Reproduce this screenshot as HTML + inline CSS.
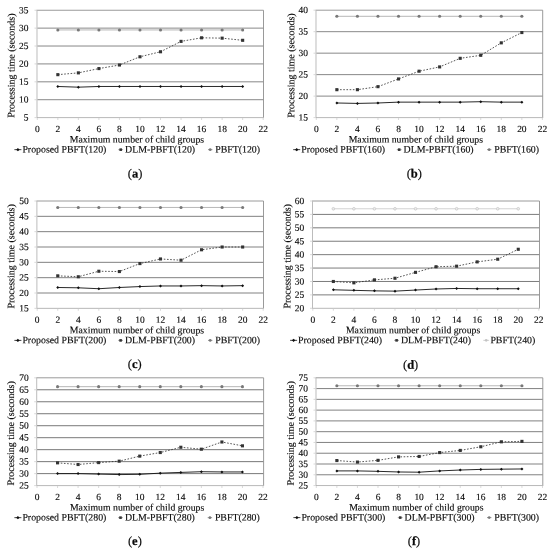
<!DOCTYPE html>
<html><head><meta charset="utf-8"><title>Figure</title>
<style>html,body{margin:0;padding:0;background:#fff}svg{display:block}text{stroke:#0a0a0a;stroke-width:.14px;text-rendering:geometricPrecision}</style>
</head><body>
<svg width="550" height="549" viewBox="0 0 550 549" font-family="'Liberation Serif', serif" font-size="9.45" fill="#0a0a0a">
<rect width="550" height="549" fill="#fff"/>
<g><line x1="37.3" x2="263.5" y1="99.71" y2="99.71" stroke="#727272" stroke-width="0.85"/><line x1="37.3" x2="263.5" y1="81.82" y2="81.82" stroke="#727272" stroke-width="0.85"/><line x1="37.3" x2="263.5" y1="63.92" y2="63.92" stroke="#727272" stroke-width="0.85"/><line x1="37.3" x2="263.5" y1="46.03" y2="46.03" stroke="#727272" stroke-width="0.85"/><line x1="37.3" x2="263.5" y1="28.14" y2="28.14" stroke="#727272" stroke-width="0.85"/><path d="M36.55 10.25H263.5V117.6" fill="none" stroke="#8e8e8e" stroke-width="0.9"/><line x1="37" x2="37" y1="10.25" y2="118.05" stroke="#b8b8b8" stroke-width="0.95"/><line x1="37" x2="263.95" y1="117.6" y2="117.6" stroke="#b0b0b0" stroke-width="0.9"/><text transform="translate(28.5 120.5) matrix(1 .0005 0 1 0 0)" text-anchor="end">5</text><line x1="34.5" x2="36.8" y1="117.6" y2="117.6" stroke="#cfcfcf" stroke-width="0.8"/><text transform="translate(28.5 102.61) matrix(1 .0005 0 1 0 0)" text-anchor="end">10</text><line x1="34.5" x2="36.8" y1="99.71" y2="99.71" stroke="#cfcfcf" stroke-width="0.8"/><text transform="translate(28.5 84.72) matrix(1 .0005 0 1 0 0)" text-anchor="end">15</text><line x1="34.5" x2="36.8" y1="81.82" y2="81.82" stroke="#cfcfcf" stroke-width="0.8"/><text transform="translate(28.5 66.83) matrix(1 .0005 0 1 0 0)" text-anchor="end">20</text><line x1="34.5" x2="36.8" y1="63.92" y2="63.92" stroke="#cfcfcf" stroke-width="0.8"/><text transform="translate(28.5 48.93) matrix(1 .0005 0 1 0 0)" text-anchor="end">25</text><line x1="34.5" x2="36.8" y1="46.03" y2="46.03" stroke="#cfcfcf" stroke-width="0.8"/><text transform="translate(28.5 31.04) matrix(1 .0005 0 1 0 0)" text-anchor="end">30</text><line x1="34.5" x2="36.8" y1="28.14" y2="28.14" stroke="#cfcfcf" stroke-width="0.8"/><text transform="translate(28.5 13.15) matrix(1 .0005 0 1 0 0)" text-anchor="end">35</text><line x1="34.5" x2="36.8" y1="10.25" y2="10.25" stroke="#cfcfcf" stroke-width="0.8"/><text transform="translate(37.3 131.95) matrix(1 .0005 0 1 0 0)" text-anchor="middle">0</text><line x1="37.3" x2="37.3" y1="118" y2="120" stroke="#cfcfcf" stroke-width="0.8"/><text transform="translate(57.84 131.95) matrix(1 .0005 0 1 0 0)" text-anchor="middle">2</text><line x1="57.84" x2="57.84" y1="118" y2="120" stroke="#cfcfcf" stroke-width="0.8"/><text transform="translate(78.37 131.95) matrix(1 .0005 0 1 0 0)" text-anchor="middle">4</text><line x1="78.37" x2="78.37" y1="118" y2="120" stroke="#cfcfcf" stroke-width="0.8"/><text transform="translate(98.91 131.95) matrix(1 .0005 0 1 0 0)" text-anchor="middle">6</text><line x1="98.91" x2="98.91" y1="118" y2="120" stroke="#cfcfcf" stroke-width="0.8"/><text transform="translate(119.45 131.95) matrix(1 .0005 0 1 0 0)" text-anchor="middle">8</text><line x1="119.45" x2="119.45" y1="118" y2="120" stroke="#cfcfcf" stroke-width="0.8"/><text transform="translate(139.98 131.95) matrix(1 .0005 0 1 0 0)" text-anchor="middle">10</text><line x1="139.98" x2="139.98" y1="118" y2="120" stroke="#cfcfcf" stroke-width="0.8"/><text transform="translate(160.52 131.95) matrix(1 .0005 0 1 0 0)" text-anchor="middle">12</text><line x1="160.52" x2="160.52" y1="118" y2="120" stroke="#cfcfcf" stroke-width="0.8"/><text transform="translate(181.05 131.95) matrix(1 .0005 0 1 0 0)" text-anchor="middle">14</text><line x1="181.05" x2="181.05" y1="118" y2="120" stroke="#cfcfcf" stroke-width="0.8"/><text transform="translate(201.59 131.95) matrix(1 .0005 0 1 0 0)" text-anchor="middle">16</text><line x1="201.59" x2="201.59" y1="118" y2="120" stroke="#cfcfcf" stroke-width="0.8"/><text transform="translate(222.13 131.95) matrix(1 .0005 0 1 0 0)" text-anchor="middle">18</text><line x1="222.13" x2="222.13" y1="118" y2="120" stroke="#cfcfcf" stroke-width="0.8"/><text transform="translate(242.66 131.95) matrix(1 .0005 0 1 0 0)" text-anchor="middle">20</text><line x1="242.66" x2="242.66" y1="118" y2="120" stroke="#cfcfcf" stroke-width="0.8"/><text transform="translate(263.2 131.95) matrix(1 .0005 0 1 0 0)" text-anchor="middle">22</text><line x1="263.2" x2="263.2" y1="118" y2="120" stroke="#cfcfcf" stroke-width="0.8"/><text transform="translate(136.9 142.6) matrix(1 .0005 0 1 0 0)" text-anchor="middle" font-size="9.76">Maximum number of child groups</text><text transform="translate(14.4 65.62) rotate(-90) matrix(1 .0005 0 1 0 0)" text-anchor="middle" font-size="10">Processing time (seconds)</text><line x1="57.84" x2="242.66" y1="29.93" y2="29.93" stroke="#a4a4a4" stroke-width="0.8"/><circle cx="57.84" cy="29.93" r="1.55" fill="#787878"/><circle cx="78.37" cy="29.93" r="1.55" fill="#787878"/><circle cx="98.91" cy="29.93" r="1.55" fill="#787878"/><circle cx="119.45" cy="29.93" r="1.55" fill="#787878"/><circle cx="139.98" cy="29.93" r="1.55" fill="#787878"/><circle cx="160.52" cy="29.93" r="1.55" fill="#787878"/><circle cx="181.05" cy="29.93" r="1.55" fill="#787878"/><circle cx="201.59" cy="29.93" r="1.55" fill="#787878"/><circle cx="222.13" cy="29.93" r="1.55" fill="#787878"/><circle cx="242.66" cy="29.93" r="1.55" fill="#787878"/><polyline points="57.84,74.66 78.37,72.87 98.91,68.58 119.45,65 139.98,56.77 160.52,51.76 181.05,41.38 201.59,37.8 222.13,38.16 242.66,40.31" fill="none" stroke="#2a2a2a" stroke-width="0.8" stroke-dasharray="1.6 1.6"/><rect x="56.29" y="73.11" width="3.1" height="3.1" fill="#333"/><rect x="76.82" y="71.32" width="3.1" height="3.1" fill="#333"/><rect x="97.36" y="67.03" width="3.1" height="3.1" fill="#333"/><rect x="117.9" y="63.45" width="3.1" height="3.1" fill="#333"/><rect x="138.43" y="55.22" width="3.1" height="3.1" fill="#333"/><rect x="158.97" y="50.21" width="3.1" height="3.1" fill="#333"/><rect x="179.5" y="39.83" width="3.1" height="3.1" fill="#333"/><rect x="200.04" y="36.25" width="3.1" height="3.1" fill="#333"/><rect x="220.58" y="36.61" width="3.1" height="3.1" fill="#333"/><rect x="241.11" y="38.76" width="3.1" height="3.1" fill="#333"/><polyline points="57.84,86.47 78.37,87.18 98.91,86.47 119.45,86.47 139.98,86.47 160.52,86.47 181.05,86.47 201.59,86.47 222.13,86.47 242.66,86.47" fill="none" stroke="#111" stroke-width="0.9"/><path d="M56.34 86.47L57.84 84.97L59.34 86.47L57.84 87.97Z" fill="#111"/><path d="M76.87 87.18L78.37 85.68L79.87 87.18L78.37 88.68Z" fill="#111"/><path d="M97.41 86.47L98.91 84.97L100.41 86.47L98.91 87.97Z" fill="#111"/><path d="M117.95 86.47L119.45 84.97L120.95 86.47L119.45 87.97Z" fill="#111"/><path d="M138.48 86.47L139.98 84.97L141.48 86.47L139.98 87.97Z" fill="#111"/><path d="M159.02 86.47L160.52 84.97L162.02 86.47L160.52 87.97Z" fill="#111"/><path d="M179.55 86.47L181.05 84.97L182.55 86.47L181.05 87.97Z" fill="#111"/><path d="M200.09 86.47L201.59 84.97L203.09 86.47L201.59 87.97Z" fill="#111"/><path d="M220.63 86.47L222.13 84.97L223.63 86.47L222.13 87.97Z" fill="#111"/><path d="M241.16 86.47L242.66 84.97L244.16 86.47L242.66 87.97Z" fill="#111"/><line x1="14.4" x2="21.4" y1="149.65" y2="149.65" stroke="#111" stroke-width="0.8"/><path d="M16.2 149.65L17.9 147.95L19.6 149.65L17.9 151.35Z" fill="#111"/><text transform="translate(22.4 152.45) matrix(1 .0005 0 1 0 0)" font-size="9.85">Proposed PBFT(120)</text><line x1="118.3" x2="123.1" y1="149.65" y2="149.65" stroke="#333" stroke-width="0.8" stroke-opacity="0.6"/><rect x="119.4" y="148.35" width="2.6" height="2.6" fill="#333"/><text transform="translate(125.1 152.45) matrix(1 .0005 0 1 0 0)" font-size="9.85">DLM-PBFT(120)</text><line x1="208" x2="212.4" y1="149.65" y2="149.65" stroke="#787878" stroke-width="0.8"/><circle cx="210.2" cy="149.65" r="1.3" fill="#787878"/><text transform="translate(215.2 152.45) matrix(1 .0005 0 1 0 0)" font-size="9.85">PBFT(120)</text><text transform="translate(135.1 177.6) matrix(1 .0005 0 1 0 0)" text-anchor="middle" font-size="12.5">(<tspan font-weight="bold" stroke="#111" stroke-width="0.25">a</tspan>)</text></g>
<g><line x1="316.3" x2="542.7" y1="96.12" y2="96.12" stroke="#727272" stroke-width="0.85"/><line x1="316.3" x2="542.7" y1="74.64" y2="74.64" stroke="#727272" stroke-width="0.85"/><line x1="316.3" x2="542.7" y1="53.16" y2="53.16" stroke="#727272" stroke-width="0.85"/><line x1="316.3" x2="542.7" y1="31.68" y2="31.68" stroke="#727272" stroke-width="0.85"/><path d="M315.55 10.2H542.7V117.6" fill="none" stroke="#8e8e8e" stroke-width="0.9"/><line x1="316" x2="316" y1="10.2" y2="118.05" stroke="#b8b8b8" stroke-width="0.95"/><line x1="316" x2="543.15" y1="117.6" y2="117.6" stroke="#b0b0b0" stroke-width="0.9"/><text transform="translate(307.9 120.5) matrix(1 .0005 0 1 0 0)" text-anchor="end">15</text><line x1="313.5" x2="315.8" y1="117.6" y2="117.6" stroke="#cfcfcf" stroke-width="0.8"/><text transform="translate(307.9 99.02) matrix(1 .0005 0 1 0 0)" text-anchor="end">20</text><line x1="313.5" x2="315.8" y1="96.12" y2="96.12" stroke="#cfcfcf" stroke-width="0.8"/><text transform="translate(307.9 77.54) matrix(1 .0005 0 1 0 0)" text-anchor="end">25</text><line x1="313.5" x2="315.8" y1="74.64" y2="74.64" stroke="#cfcfcf" stroke-width="0.8"/><text transform="translate(307.9 56.06) matrix(1 .0005 0 1 0 0)" text-anchor="end">30</text><line x1="313.5" x2="315.8" y1="53.16" y2="53.16" stroke="#cfcfcf" stroke-width="0.8"/><text transform="translate(307.9 34.58) matrix(1 .0005 0 1 0 0)" text-anchor="end">35</text><line x1="313.5" x2="315.8" y1="31.68" y2="31.68" stroke="#cfcfcf" stroke-width="0.8"/><text transform="translate(307.9 13.1) matrix(1 .0005 0 1 0 0)" text-anchor="end">40</text><line x1="313.5" x2="315.8" y1="10.2" y2="10.2" stroke="#cfcfcf" stroke-width="0.8"/><text transform="translate(316.3 131.95) matrix(1 .0005 0 1 0 0)" text-anchor="middle">0</text><line x1="316.3" x2="316.3" y1="118" y2="120" stroke="#cfcfcf" stroke-width="0.8"/><text transform="translate(336.85 131.95) matrix(1 .0005 0 1 0 0)" text-anchor="middle">2</text><line x1="336.85" x2="336.85" y1="118" y2="120" stroke="#cfcfcf" stroke-width="0.8"/><text transform="translate(357.41 131.95) matrix(1 .0005 0 1 0 0)" text-anchor="middle">4</text><line x1="357.41" x2="357.41" y1="118" y2="120" stroke="#cfcfcf" stroke-width="0.8"/><text transform="translate(377.96 131.95) matrix(1 .0005 0 1 0 0)" text-anchor="middle">6</text><line x1="377.96" x2="377.96" y1="118" y2="120" stroke="#cfcfcf" stroke-width="0.8"/><text transform="translate(398.52 131.95) matrix(1 .0005 0 1 0 0)" text-anchor="middle">8</text><line x1="398.52" x2="398.52" y1="118" y2="120" stroke="#cfcfcf" stroke-width="0.8"/><text transform="translate(419.07 131.95) matrix(1 .0005 0 1 0 0)" text-anchor="middle">10</text><line x1="419.07" x2="419.07" y1="118" y2="120" stroke="#cfcfcf" stroke-width="0.8"/><text transform="translate(439.63 131.95) matrix(1 .0005 0 1 0 0)" text-anchor="middle">12</text><line x1="439.63" x2="439.63" y1="118" y2="120" stroke="#cfcfcf" stroke-width="0.8"/><text transform="translate(460.18 131.95) matrix(1 .0005 0 1 0 0)" text-anchor="middle">14</text><line x1="460.18" x2="460.18" y1="118" y2="120" stroke="#cfcfcf" stroke-width="0.8"/><text transform="translate(480.74 131.95) matrix(1 .0005 0 1 0 0)" text-anchor="middle">16</text><line x1="480.74" x2="480.74" y1="118" y2="120" stroke="#cfcfcf" stroke-width="0.8"/><text transform="translate(501.29 131.95) matrix(1 .0005 0 1 0 0)" text-anchor="middle">18</text><line x1="501.29" x2="501.29" y1="118" y2="120" stroke="#cfcfcf" stroke-width="0.8"/><text transform="translate(521.85 131.95) matrix(1 .0005 0 1 0 0)" text-anchor="middle">20</text><line x1="521.85" x2="521.85" y1="118" y2="120" stroke="#cfcfcf" stroke-width="0.8"/><text transform="translate(542.4 131.95) matrix(1 .0005 0 1 0 0)" text-anchor="middle">22</text><line x1="542.4" x2="542.4" y1="118" y2="120" stroke="#cfcfcf" stroke-width="0.8"/><text transform="translate(415.8 142.6) matrix(1 .0005 0 1 0 0)" text-anchor="middle" font-size="9.76">Maximum number of child groups</text><text transform="translate(294.3 65.6) rotate(-90) matrix(1 .0005 0 1 0 0)" text-anchor="middle" font-size="10">Processing time (seconds)</text><line x1="336.85" x2="521.85" y1="16.3" y2="16.3" stroke="#a4a4a4" stroke-width="0.8"/><circle cx="336.85" cy="16.3" r="1.55" fill="#787878"/><circle cx="357.41" cy="16.3" r="1.55" fill="#787878"/><circle cx="377.96" cy="16.3" r="1.55" fill="#787878"/><circle cx="398.52" cy="16.3" r="1.55" fill="#787878"/><circle cx="419.07" cy="16.3" r="1.55" fill="#787878"/><circle cx="439.63" cy="16.3" r="1.55" fill="#787878"/><circle cx="460.18" cy="16.3" r="1.55" fill="#787878"/><circle cx="480.74" cy="16.3" r="1.55" fill="#787878"/><circle cx="501.29" cy="16.3" r="1.55" fill="#787878"/><circle cx="521.85" cy="16.3" r="1.55" fill="#787878"/><polyline points="336.85,89.68 357.41,89.68 377.96,86.67 398.52,78.94 419.07,71.2 439.63,66.91 460.18,58.32 480.74,55.31 501.29,42.85 521.85,32.54" fill="none" stroke="#2a2a2a" stroke-width="0.8" stroke-dasharray="1.6 1.6"/><rect x="335.3" y="88.13" width="3.1" height="3.1" fill="#333"/><rect x="355.86" y="88.13" width="3.1" height="3.1" fill="#333"/><rect x="376.41" y="85.12" width="3.1" height="3.1" fill="#333"/><rect x="396.97" y="77.39" width="3.1" height="3.1" fill="#333"/><rect x="417.52" y="69.65" width="3.1" height="3.1" fill="#333"/><rect x="438.08" y="65.36" width="3.1" height="3.1" fill="#333"/><rect x="458.63" y="56.77" width="3.1" height="3.1" fill="#333"/><rect x="479.19" y="53.76" width="3.1" height="3.1" fill="#333"/><rect x="499.74" y="41.3" width="3.1" height="3.1" fill="#333"/><rect x="520.3" y="30.99" width="3.1" height="3.1" fill="#333"/><polyline points="336.85,102.99 357.41,103.42 377.96,102.99 398.52,102.13 419.07,102.13 439.63,102.13 460.18,102.13 480.74,101.7 501.29,102.13 521.85,102.13" fill="none" stroke="#111" stroke-width="0.9"/><path d="M335.35 102.99L336.85 101.49L338.35 102.99L336.85 104.49Z" fill="#111"/><path d="M355.91 103.42L357.41 101.92L358.91 103.42L357.41 104.92Z" fill="#111"/><path d="M376.46 102.99L377.96 101.49L379.46 102.99L377.96 104.49Z" fill="#111"/><path d="M397.02 102.13L398.52 100.63L400.02 102.13L398.52 103.63Z" fill="#111"/><path d="M417.57 102.13L419.07 100.63L420.57 102.13L419.07 103.63Z" fill="#111"/><path d="M438.13 102.13L439.63 100.63L441.13 102.13L439.63 103.63Z" fill="#111"/><path d="M458.68 102.13L460.18 100.63L461.68 102.13L460.18 103.63Z" fill="#111"/><path d="M479.24 101.7L480.74 100.2L482.24 101.7L480.74 103.2Z" fill="#111"/><path d="M499.79 102.13L501.29 100.63L502.79 102.13L501.29 103.63Z" fill="#111"/><path d="M520.35 102.13L521.85 100.63L523.35 102.13L521.85 103.63Z" fill="#111"/><line x1="293.2" x2="300.2" y1="149.65" y2="149.65" stroke="#111" stroke-width="0.8"/><path d="M295 149.65L296.7 147.95L298.4 149.65L296.7 151.35Z" fill="#111"/><text transform="translate(301.2 152.45) matrix(1 .0005 0 1 0 0)" font-size="9.85">Proposed PBFT(160)</text><line x1="396.8" x2="401.6" y1="149.65" y2="149.65" stroke="#333" stroke-width="0.8" stroke-opacity="0.6"/><rect x="397.9" y="148.35" width="2.6" height="2.6" fill="#333"/><text transform="translate(403.6 152.45) matrix(1 .0005 0 1 0 0)" font-size="9.85">DLM-PBFT(160)</text><line x1="487" x2="491.4" y1="149.65" y2="149.65" stroke="#787878" stroke-width="0.8"/><circle cx="489.2" cy="149.65" r="1.3" fill="#787878"/><text transform="translate(494.2 152.45) matrix(1 .0005 0 1 0 0)" font-size="9.85">PBFT(160)</text><text transform="translate(414.3 177.6) matrix(1 .0005 0 1 0 0)" text-anchor="middle" font-size="12.5">(<tspan font-weight="bold" stroke="#111" stroke-width="0.25">b</tspan>)</text></g>
<g><line x1="37.2" x2="263.5" y1="293.01" y2="293.01" stroke="#6a6a6a" stroke-width="0.85"/><line x1="37.2" x2="263.5" y1="277.68" y2="277.68" stroke="#6a6a6a" stroke-width="0.85"/><line x1="37.2" x2="263.5" y1="262.34" y2="262.34" stroke="#6a6a6a" stroke-width="0.85"/><line x1="37.2" x2="263.5" y1="247.01" y2="247.01" stroke="#6a6a6a" stroke-width="0.85"/><line x1="37.2" x2="263.5" y1="231.67" y2="231.67" stroke="#6a6a6a" stroke-width="0.85"/><line x1="37.2" x2="263.5" y1="216.34" y2="216.34" stroke="#6a6a6a" stroke-width="0.85"/><path d="M36.45 201H263.5V308.35" fill="none" stroke="#8e8e8e" stroke-width="0.9"/><line x1="36.9" x2="36.9" y1="201" y2="308.8" stroke="#b8b8b8" stroke-width="0.95"/><line x1="36.9" x2="263.95" y1="308.35" y2="308.35" stroke="#b0b0b0" stroke-width="0.9"/><text transform="translate(28.8 311.25) matrix(1 .0005 0 1 0 0)" text-anchor="end">15</text><line x1="34.4" x2="36.7" y1="308.35" y2="308.35" stroke="#cfcfcf" stroke-width="0.8"/><text transform="translate(28.8 295.91) matrix(1 .0005 0 1 0 0)" text-anchor="end">20</text><line x1="34.4" x2="36.7" y1="293.01" y2="293.01" stroke="#cfcfcf" stroke-width="0.8"/><text transform="translate(28.8 280.58) matrix(1 .0005 0 1 0 0)" text-anchor="end">25</text><line x1="34.4" x2="36.7" y1="277.68" y2="277.68" stroke="#cfcfcf" stroke-width="0.8"/><text transform="translate(28.8 265.24) matrix(1 .0005 0 1 0 0)" text-anchor="end">30</text><line x1="34.4" x2="36.7" y1="262.34" y2="262.34" stroke="#cfcfcf" stroke-width="0.8"/><text transform="translate(28.8 249.91) matrix(1 .0005 0 1 0 0)" text-anchor="end">35</text><line x1="34.4" x2="36.7" y1="247.01" y2="247.01" stroke="#cfcfcf" stroke-width="0.8"/><text transform="translate(28.8 234.57) matrix(1 .0005 0 1 0 0)" text-anchor="end">40</text><line x1="34.4" x2="36.7" y1="231.67" y2="231.67" stroke="#cfcfcf" stroke-width="0.8"/><text transform="translate(28.8 219.24) matrix(1 .0005 0 1 0 0)" text-anchor="end">45</text><line x1="34.4" x2="36.7" y1="216.34" y2="216.34" stroke="#cfcfcf" stroke-width="0.8"/><text transform="translate(28.8 203.9) matrix(1 .0005 0 1 0 0)" text-anchor="end">50</text><line x1="34.4" x2="36.7" y1="201" y2="201" stroke="#cfcfcf" stroke-width="0.8"/><text transform="translate(37.2 322.7) matrix(1 .0005 0 1 0 0)" text-anchor="middle">0</text><line x1="37.2" x2="37.2" y1="308.75" y2="310.75" stroke="#cfcfcf" stroke-width="0.8"/><text transform="translate(57.75 322.7) matrix(1 .0005 0 1 0 0)" text-anchor="middle">2</text><line x1="57.75" x2="57.75" y1="308.75" y2="310.75" stroke="#cfcfcf" stroke-width="0.8"/><text transform="translate(78.29 322.7) matrix(1 .0005 0 1 0 0)" text-anchor="middle">4</text><line x1="78.29" x2="78.29" y1="308.75" y2="310.75" stroke="#cfcfcf" stroke-width="0.8"/><text transform="translate(98.84 322.7) matrix(1 .0005 0 1 0 0)" text-anchor="middle">6</text><line x1="98.84" x2="98.84" y1="308.75" y2="310.75" stroke="#cfcfcf" stroke-width="0.8"/><text transform="translate(119.38 322.7) matrix(1 .0005 0 1 0 0)" text-anchor="middle">8</text><line x1="119.38" x2="119.38" y1="308.75" y2="310.75" stroke="#cfcfcf" stroke-width="0.8"/><text transform="translate(139.93 322.7) matrix(1 .0005 0 1 0 0)" text-anchor="middle">10</text><line x1="139.93" x2="139.93" y1="308.75" y2="310.75" stroke="#cfcfcf" stroke-width="0.8"/><text transform="translate(160.47 322.7) matrix(1 .0005 0 1 0 0)" text-anchor="middle">12</text><line x1="160.47" x2="160.47" y1="308.75" y2="310.75" stroke="#cfcfcf" stroke-width="0.8"/><text transform="translate(181.02 322.7) matrix(1 .0005 0 1 0 0)" text-anchor="middle">14</text><line x1="181.02" x2="181.02" y1="308.75" y2="310.75" stroke="#cfcfcf" stroke-width="0.8"/><text transform="translate(201.56 322.7) matrix(1 .0005 0 1 0 0)" text-anchor="middle">16</text><line x1="201.56" x2="201.56" y1="308.75" y2="310.75" stroke="#cfcfcf" stroke-width="0.8"/><text transform="translate(222.11 322.7) matrix(1 .0005 0 1 0 0)" text-anchor="middle">18</text><line x1="222.11" x2="222.11" y1="308.75" y2="310.75" stroke="#cfcfcf" stroke-width="0.8"/><text transform="translate(242.65 322.7) matrix(1 .0005 0 1 0 0)" text-anchor="middle">20</text><line x1="242.65" x2="242.65" y1="308.75" y2="310.75" stroke="#cfcfcf" stroke-width="0.8"/><text transform="translate(263.2 322.7) matrix(1 .0005 0 1 0 0)" text-anchor="middle">22</text><line x1="263.2" x2="263.2" y1="308.75" y2="310.75" stroke="#cfcfcf" stroke-width="0.8"/><text transform="translate(137 333.35) matrix(1 .0005 0 1 0 0)" text-anchor="middle" font-size="9.76">Maximum number of child groups</text><text transform="translate(14.2 256.38) rotate(-90) matrix(1 .0005 0 1 0 0)" text-anchor="middle" font-size="10">Processing time (seconds)</text><line x1="57.75" x2="242.65" y1="207.44" y2="207.44" stroke="#a4a4a4" stroke-width="0.8"/><circle cx="57.75" cy="207.44" r="1.55" fill="#787878"/><circle cx="78.29" cy="207.44" r="1.55" fill="#787878"/><circle cx="98.84" cy="207.44" r="1.55" fill="#787878"/><circle cx="119.38" cy="207.44" r="1.55" fill="#787878"/><circle cx="139.93" cy="207.44" r="1.55" fill="#787878"/><circle cx="160.47" cy="207.44" r="1.55" fill="#787878"/><circle cx="181.02" cy="207.44" r="1.55" fill="#787878"/><circle cx="201.56" cy="207.44" r="1.55" fill="#787878"/><circle cx="222.11" cy="207.44" r="1.55" fill="#787878"/><circle cx="242.65" cy="207.44" r="1.55" fill="#787878"/><polyline points="57.75,275.84 78.29,276.76 98.84,271.24 119.38,271.54 139.93,263.57 160.47,258.97 181.02,260.2 201.56,249.77 222.11,247.01 242.65,247.01" fill="none" stroke="#2a2a2a" stroke-width="0.8" stroke-dasharray="1.6 1.6"/><rect x="56.2" y="274.29" width="3.1" height="3.1" fill="#333"/><rect x="76.74" y="275.21" width="3.1" height="3.1" fill="#333"/><rect x="97.29" y="269.69" width="3.1" height="3.1" fill="#333"/><rect x="117.83" y="269.99" width="3.1" height="3.1" fill="#333"/><rect x="138.38" y="262.02" width="3.1" height="3.1" fill="#333"/><rect x="158.92" y="257.42" width="3.1" height="3.1" fill="#333"/><rect x="179.47" y="258.65" width="3.1" height="3.1" fill="#333"/><rect x="200.01" y="248.22" width="3.1" height="3.1" fill="#333"/><rect x="220.56" y="245.46" width="3.1" height="3.1" fill="#333"/><rect x="241.1" y="245.46" width="3.1" height="3.1" fill="#333"/><polyline points="57.75,287.49 78.29,287.8 98.84,288.72 119.38,287.49 139.93,286.57 160.47,285.96 181.02,285.96 201.56,285.65 222.11,285.96 242.65,285.65" fill="none" stroke="#111" stroke-width="0.9"/><path d="M56.25 287.49L57.75 285.99L59.25 287.49L57.75 288.99Z" fill="#111"/><path d="M76.79 287.8L78.29 286.3L79.79 287.8L78.29 289.3Z" fill="#111"/><path d="M97.34 288.72L98.84 287.22L100.34 288.72L98.84 290.22Z" fill="#111"/><path d="M117.88 287.49L119.38 285.99L120.88 287.49L119.38 288.99Z" fill="#111"/><path d="M138.43 286.57L139.93 285.07L141.43 286.57L139.93 288.07Z" fill="#111"/><path d="M158.97 285.96L160.47 284.46L161.97 285.96L160.47 287.46Z" fill="#111"/><path d="M179.52 285.96L181.02 284.46L182.52 285.96L181.02 287.46Z" fill="#111"/><path d="M200.06 285.65L201.56 284.15L203.06 285.65L201.56 287.15Z" fill="#111"/><path d="M220.61 285.96L222.11 284.46L223.61 285.96L222.11 287.46Z" fill="#111"/><path d="M241.15 285.65L242.65 284.15L244.15 285.65L242.65 287.15Z" fill="#111"/><line x1="14.4" x2="21.4" y1="340.4" y2="340.4" stroke="#111" stroke-width="0.8"/><path d="M16.2 340.4L17.9 338.7L19.6 340.4L17.9 342.1Z" fill="#111"/><text transform="translate(22.4 343.2) matrix(1 .0005 0 1 0 0)" font-size="9.85">Proposed PBFT(200)</text><line x1="118.2" x2="123" y1="340.4" y2="340.4" stroke="#333" stroke-width="0.8" stroke-opacity="0.6"/><rect x="119.3" y="339.1" width="2.6" height="2.6" fill="#333"/><text transform="translate(125 343.2) matrix(1 .0005 0 1 0 0)" font-size="9.85">DLM-PBFT(200)</text><line x1="208" x2="212.4" y1="340.4" y2="340.4" stroke="#787878" stroke-width="0.8"/><circle cx="210.2" cy="340.4" r="1.3" fill="#787878"/><text transform="translate(215.2 343.2) matrix(1 .0005 0 1 0 0)" font-size="9.85">PBFT(200)</text><text transform="translate(134.8 368.05) matrix(1 .0005 0 1 0 0)" text-anchor="middle" font-size="12.5">(<tspan font-weight="bold" stroke="#111" stroke-width="0.25">c</tspan>)</text></g>
<g><line x1="312.8" x2="539.5" y1="294.89" y2="294.89" stroke="#646464" stroke-width="0.85"/><line x1="312.8" x2="539.5" y1="281.48" y2="281.48" stroke="#646464" stroke-width="0.85"/><line x1="312.8" x2="539.5" y1="268.06" y2="268.06" stroke="#646464" stroke-width="0.85"/><line x1="312.8" x2="539.5" y1="254.65" y2="254.65" stroke="#646464" stroke-width="0.85"/><line x1="312.8" x2="539.5" y1="241.24" y2="241.24" stroke="#646464" stroke-width="0.85"/><line x1="312.8" x2="539.5" y1="227.82" y2="227.82" stroke="#646464" stroke-width="0.85"/><line x1="312.8" x2="539.5" y1="214.41" y2="214.41" stroke="#646464" stroke-width="0.85"/><path d="M312.05 201H539.5V308.3" fill="none" stroke="#8e8e8e" stroke-width="0.9"/><line x1="312.5" x2="312.5" y1="201" y2="308.75" stroke="#b8b8b8" stroke-width="0.95"/><line x1="312.5" x2="539.95" y1="308.3" y2="308.3" stroke="#b0b0b0" stroke-width="0.9"/><text transform="translate(304.3 311.2) matrix(1 .0005 0 1 0 0)" text-anchor="end">20</text><line x1="310" x2="312.3" y1="308.3" y2="308.3" stroke="#cfcfcf" stroke-width="0.8"/><text transform="translate(304.3 297.79) matrix(1 .0005 0 1 0 0)" text-anchor="end">25</text><line x1="310" x2="312.3" y1="294.89" y2="294.89" stroke="#cfcfcf" stroke-width="0.8"/><text transform="translate(304.3 284.38) matrix(1 .0005 0 1 0 0)" text-anchor="end">30</text><line x1="310" x2="312.3" y1="281.48" y2="281.48" stroke="#cfcfcf" stroke-width="0.8"/><text transform="translate(304.3 270.96) matrix(1 .0005 0 1 0 0)" text-anchor="end">35</text><line x1="310" x2="312.3" y1="268.06" y2="268.06" stroke="#cfcfcf" stroke-width="0.8"/><text transform="translate(304.3 257.55) matrix(1 .0005 0 1 0 0)" text-anchor="end">40</text><line x1="310" x2="312.3" y1="254.65" y2="254.65" stroke="#cfcfcf" stroke-width="0.8"/><text transform="translate(304.3 244.14) matrix(1 .0005 0 1 0 0)" text-anchor="end">45</text><line x1="310" x2="312.3" y1="241.24" y2="241.24" stroke="#cfcfcf" stroke-width="0.8"/><text transform="translate(304.3 230.72) matrix(1 .0005 0 1 0 0)" text-anchor="end">50</text><line x1="310" x2="312.3" y1="227.82" y2="227.82" stroke="#cfcfcf" stroke-width="0.8"/><text transform="translate(304.3 217.31) matrix(1 .0005 0 1 0 0)" text-anchor="end">55</text><line x1="310" x2="312.3" y1="214.41" y2="214.41" stroke="#cfcfcf" stroke-width="0.8"/><text transform="translate(304.3 203.9) matrix(1 .0005 0 1 0 0)" text-anchor="end">60</text><line x1="310" x2="312.3" y1="201" y2="201" stroke="#cfcfcf" stroke-width="0.8"/><text transform="translate(312.8 322.65) matrix(1 .0005 0 1 0 0)" text-anchor="middle">0</text><line x1="312.8" x2="312.8" y1="308.7" y2="310.7" stroke="#cfcfcf" stroke-width="0.8"/><text transform="translate(333.35 322.65) matrix(1 .0005 0 1 0 0)" text-anchor="middle">2</text><line x1="333.35" x2="333.35" y1="308.7" y2="310.7" stroke="#cfcfcf" stroke-width="0.8"/><text transform="translate(353.89 322.65) matrix(1 .0005 0 1 0 0)" text-anchor="middle">4</text><line x1="353.89" x2="353.89" y1="308.7" y2="310.7" stroke="#cfcfcf" stroke-width="0.8"/><text transform="translate(374.44 322.65) matrix(1 .0005 0 1 0 0)" text-anchor="middle">6</text><line x1="374.44" x2="374.44" y1="308.7" y2="310.7" stroke="#cfcfcf" stroke-width="0.8"/><text transform="translate(394.98 322.65) matrix(1 .0005 0 1 0 0)" text-anchor="middle">8</text><line x1="394.98" x2="394.98" y1="308.7" y2="310.7" stroke="#cfcfcf" stroke-width="0.8"/><text transform="translate(415.53 322.65) matrix(1 .0005 0 1 0 0)" text-anchor="middle">10</text><line x1="415.53" x2="415.53" y1="308.7" y2="310.7" stroke="#cfcfcf" stroke-width="0.8"/><text transform="translate(436.07 322.65) matrix(1 .0005 0 1 0 0)" text-anchor="middle">12</text><line x1="436.07" x2="436.07" y1="308.7" y2="310.7" stroke="#cfcfcf" stroke-width="0.8"/><text transform="translate(456.62 322.65) matrix(1 .0005 0 1 0 0)" text-anchor="middle">14</text><line x1="456.62" x2="456.62" y1="308.7" y2="310.7" stroke="#cfcfcf" stroke-width="0.8"/><text transform="translate(477.16 322.65) matrix(1 .0005 0 1 0 0)" text-anchor="middle">16</text><line x1="477.16" x2="477.16" y1="308.7" y2="310.7" stroke="#cfcfcf" stroke-width="0.8"/><text transform="translate(497.71 322.65) matrix(1 .0005 0 1 0 0)" text-anchor="middle">18</text><line x1="497.71" x2="497.71" y1="308.7" y2="310.7" stroke="#cfcfcf" stroke-width="0.8"/><text transform="translate(518.25 322.65) matrix(1 .0005 0 1 0 0)" text-anchor="middle">20</text><line x1="518.25" x2="518.25" y1="308.7" y2="310.7" stroke="#cfcfcf" stroke-width="0.8"/><text transform="translate(538.8 322.65) matrix(1 .0005 0 1 0 0)" text-anchor="middle">22</text><line x1="538.8" x2="538.8" y1="308.7" y2="310.7" stroke="#cfcfcf" stroke-width="0.8"/><text transform="translate(413.1 333.3) matrix(1 .0005 0 1 0 0)" text-anchor="middle" font-size="9.76">Maximum number of child groups</text><text transform="translate(290.4 256.35) rotate(-90) matrix(1 .0005 0 1 0 0)" text-anchor="middle" font-size="10">Processing time (seconds)</text><line x1="333.35" x2="518.25" y1="208.78" y2="208.78" stroke="#c8c8c8" stroke-width="0.8"/><circle cx="333.35" cy="208.78" r="1.35" fill="#ececec" stroke="#c4c4c4" stroke-width="0.7"/><circle cx="353.89" cy="208.78" r="1.35" fill="#ececec" stroke="#c4c4c4" stroke-width="0.7"/><circle cx="374.44" cy="208.78" r="1.35" fill="#ececec" stroke="#c4c4c4" stroke-width="0.7"/><circle cx="394.98" cy="208.78" r="1.35" fill="#ececec" stroke="#c4c4c4" stroke-width="0.7"/><circle cx="415.53" cy="208.78" r="1.35" fill="#ececec" stroke="#c4c4c4" stroke-width="0.7"/><circle cx="436.07" cy="208.78" r="1.35" fill="#ececec" stroke="#c4c4c4" stroke-width="0.7"/><circle cx="456.62" cy="208.78" r="1.35" fill="#ececec" stroke="#c4c4c4" stroke-width="0.7"/><circle cx="477.16" cy="208.78" r="1.35" fill="#ececec" stroke="#c4c4c4" stroke-width="0.7"/><circle cx="497.71" cy="208.78" r="1.35" fill="#ececec" stroke="#c4c4c4" stroke-width="0.7"/><circle cx="518.25" cy="208.78" r="1.35" fill="#ececec" stroke="#c4c4c4" stroke-width="0.7"/><polyline points="333.35,281.48 353.89,282.82 374.44,279.87 394.98,278.26 415.53,272.35 436.07,266.72 456.62,266.18 477.16,261.89 497.71,259.21 518.25,249.28" fill="none" stroke="#2a2a2a" stroke-width="0.8" stroke-dasharray="1.6 1.6"/><rect x="331.8" y="279.93" width="3.1" height="3.1" fill="#333"/><rect x="352.34" y="281.27" width="3.1" height="3.1" fill="#333"/><rect x="372.89" y="278.32" width="3.1" height="3.1" fill="#333"/><rect x="393.43" y="276.71" width="3.1" height="3.1" fill="#333"/><rect x="413.98" y="270.8" width="3.1" height="3.1" fill="#333"/><rect x="434.52" y="265.17" width="3.1" height="3.1" fill="#333"/><rect x="455.07" y="264.63" width="3.1" height="3.1" fill="#333"/><rect x="475.61" y="260.34" width="3.1" height="3.1" fill="#333"/><rect x="496.16" y="257.66" width="3.1" height="3.1" fill="#333"/><rect x="516.7" y="247.73" width="3.1" height="3.1" fill="#333"/><polyline points="333.35,289.79 353.89,290.33 374.44,290.86 394.98,291.13 415.53,290.06 436.07,288.99 456.62,288.45 477.16,288.72 497.71,288.72 518.25,288.72" fill="none" stroke="#111" stroke-width="0.9"/><path d="M331.85 289.79L333.35 288.29L334.85 289.79L333.35 291.29Z" fill="#111"/><path d="M352.39 290.33L353.89 288.83L355.39 290.33L353.89 291.83Z" fill="#111"/><path d="M372.94 290.86L374.44 289.36L375.94 290.86L374.44 292.36Z" fill="#111"/><path d="M393.48 291.13L394.98 289.63L396.48 291.13L394.98 292.63Z" fill="#111"/><path d="M414.03 290.06L415.53 288.56L417.03 290.06L415.53 291.56Z" fill="#111"/><path d="M434.57 288.99L436.07 287.49L437.57 288.99L436.07 290.49Z" fill="#111"/><path d="M455.12 288.45L456.62 286.95L458.12 288.45L456.62 289.95Z" fill="#111"/><path d="M475.66 288.72L477.16 287.22L478.66 288.72L477.16 290.22Z" fill="#111"/><path d="M496.21 288.72L497.71 287.22L499.21 288.72L497.71 290.22Z" fill="#111"/><path d="M516.75 288.72L518.25 287.22L519.75 288.72L518.25 290.22Z" fill="#111"/><line x1="290.1" x2="297.1" y1="340.35" y2="340.35" stroke="#111" stroke-width="0.8"/><path d="M291.9 340.35L293.6 338.65L295.3 340.35L293.6 342.05Z" fill="#111"/><text transform="translate(298.1 343.15) matrix(1 .0005 0 1 0 0)" font-size="9.85">Proposed PBFT(240)</text><line x1="394.2" x2="399" y1="340.35" y2="340.35" stroke="#333" stroke-width="0.8" stroke-opacity="0.6"/><rect x="395.3" y="339.05" width="2.6" height="2.6" fill="#333"/><text transform="translate(401 343.15) matrix(1 .0005 0 1 0 0)" font-size="9.85">DLM-PBFT(240)</text><line x1="483.3" x2="489.1" y1="340.35" y2="340.35" stroke="#c4c4c4" stroke-width="0.8"/><circle cx="486.2" cy="340.35" r="1.3" fill="#c4c4c4"/><text transform="translate(490.4 343.15) matrix(1 .0005 0 1 0 0)" font-size="9.85">PBFT(240)</text><text transform="translate(410.6 368.8) matrix(1 .0005 0 1 0 0)" text-anchor="middle" font-size="12.5">(<tspan font-weight="bold" stroke="#111" stroke-width="0.25">d</tspan>)</text></g>
<g><line x1="37" x2="263.6" y1="473.62" y2="473.62" stroke="#555555" stroke-width="0.8"/><line x1="37" x2="263.6" y1="461.64" y2="461.64" stroke="#555555" stroke-width="0.8"/><line x1="37" x2="263.6" y1="449.67" y2="449.67" stroke="#555555" stroke-width="0.8"/><line x1="37" x2="263.6" y1="437.69" y2="437.69" stroke="#555555" stroke-width="0.8"/><line x1="37" x2="263.6" y1="425.71" y2="425.71" stroke="#555555" stroke-width="0.8"/><line x1="37" x2="263.6" y1="413.73" y2="413.73" stroke="#555555" stroke-width="0.8"/><line x1="37" x2="263.6" y1="401.76" y2="401.76" stroke="#555555" stroke-width="0.8"/><line x1="37" x2="263.6" y1="389.78" y2="389.78" stroke="#555555" stroke-width="0.8"/><path d="M36.25 377.8H263.6V485.6" fill="none" stroke="#8e8e8e" stroke-width="0.9"/><line x1="36.7" x2="36.7" y1="377.8" y2="486.05" stroke="#b8b8b8" stroke-width="0.95"/><line x1="36.7" x2="264.05" y1="485.6" y2="485.6" stroke="#b0b0b0" stroke-width="0.9"/><text transform="translate(28.6 488.5) matrix(1 .0005 0 1 0 0)" text-anchor="end">25</text><line x1="34.2" x2="36.5" y1="485.6" y2="485.6" stroke="#cfcfcf" stroke-width="0.8"/><text transform="translate(28.6 476.52) matrix(1 .0005 0 1 0 0)" text-anchor="end">30</text><line x1="34.2" x2="36.5" y1="473.62" y2="473.62" stroke="#cfcfcf" stroke-width="0.8"/><text transform="translate(28.6 464.54) matrix(1 .0005 0 1 0 0)" text-anchor="end">35</text><line x1="34.2" x2="36.5" y1="461.64" y2="461.64" stroke="#cfcfcf" stroke-width="0.8"/><text transform="translate(28.6 452.57) matrix(1 .0005 0 1 0 0)" text-anchor="end">40</text><line x1="34.2" x2="36.5" y1="449.67" y2="449.67" stroke="#cfcfcf" stroke-width="0.8"/><text transform="translate(28.6 440.59) matrix(1 .0005 0 1 0 0)" text-anchor="end">45</text><line x1="34.2" x2="36.5" y1="437.69" y2="437.69" stroke="#cfcfcf" stroke-width="0.8"/><text transform="translate(28.6 428.61) matrix(1 .0005 0 1 0 0)" text-anchor="end">50</text><line x1="34.2" x2="36.5" y1="425.71" y2="425.71" stroke="#cfcfcf" stroke-width="0.8"/><text transform="translate(28.6 416.63) matrix(1 .0005 0 1 0 0)" text-anchor="end">55</text><line x1="34.2" x2="36.5" y1="413.73" y2="413.73" stroke="#cfcfcf" stroke-width="0.8"/><text transform="translate(28.6 404.66) matrix(1 .0005 0 1 0 0)" text-anchor="end">60</text><line x1="34.2" x2="36.5" y1="401.76" y2="401.76" stroke="#cfcfcf" stroke-width="0.8"/><text transform="translate(28.6 392.68) matrix(1 .0005 0 1 0 0)" text-anchor="end">65</text><line x1="34.2" x2="36.5" y1="389.78" y2="389.78" stroke="#cfcfcf" stroke-width="0.8"/><text transform="translate(28.6 380.7) matrix(1 .0005 0 1 0 0)" text-anchor="end">70</text><line x1="34.2" x2="36.5" y1="377.8" y2="377.8" stroke="#cfcfcf" stroke-width="0.8"/><text transform="translate(37 499.95) matrix(1 .0005 0 1 0 0)" text-anchor="middle">0</text><line x1="37" x2="37" y1="486" y2="488" stroke="#cfcfcf" stroke-width="0.8"/><text transform="translate(57.55 499.95) matrix(1 .0005 0 1 0 0)" text-anchor="middle">2</text><line x1="57.55" x2="57.55" y1="486" y2="488" stroke="#cfcfcf" stroke-width="0.8"/><text transform="translate(78.09 499.95) matrix(1 .0005 0 1 0 0)" text-anchor="middle">4</text><line x1="78.09" x2="78.09" y1="486" y2="488" stroke="#cfcfcf" stroke-width="0.8"/><text transform="translate(98.64 499.95) matrix(1 .0005 0 1 0 0)" text-anchor="middle">6</text><line x1="98.64" x2="98.64" y1="486" y2="488" stroke="#cfcfcf" stroke-width="0.8"/><text transform="translate(119.18 499.95) matrix(1 .0005 0 1 0 0)" text-anchor="middle">8</text><line x1="119.18" x2="119.18" y1="486" y2="488" stroke="#cfcfcf" stroke-width="0.8"/><text transform="translate(139.73 499.95) matrix(1 .0005 0 1 0 0)" text-anchor="middle">10</text><line x1="139.73" x2="139.73" y1="486" y2="488" stroke="#cfcfcf" stroke-width="0.8"/><text transform="translate(160.27 499.95) matrix(1 .0005 0 1 0 0)" text-anchor="middle">12</text><line x1="160.27" x2="160.27" y1="486" y2="488" stroke="#cfcfcf" stroke-width="0.8"/><text transform="translate(180.82 499.95) matrix(1 .0005 0 1 0 0)" text-anchor="middle">14</text><line x1="180.82" x2="180.82" y1="486" y2="488" stroke="#cfcfcf" stroke-width="0.8"/><text transform="translate(201.36 499.95) matrix(1 .0005 0 1 0 0)" text-anchor="middle">16</text><line x1="201.36" x2="201.36" y1="486" y2="488" stroke="#cfcfcf" stroke-width="0.8"/><text transform="translate(221.91 499.95) matrix(1 .0005 0 1 0 0)" text-anchor="middle">18</text><line x1="221.91" x2="221.91" y1="486" y2="488" stroke="#cfcfcf" stroke-width="0.8"/><text transform="translate(242.45 499.95) matrix(1 .0005 0 1 0 0)" text-anchor="middle">20</text><line x1="242.45" x2="242.45" y1="486" y2="488" stroke="#cfcfcf" stroke-width="0.8"/><text transform="translate(263 499.95) matrix(1 .0005 0 1 0 0)" text-anchor="middle">22</text><line x1="263" x2="263" y1="486" y2="488" stroke="#cfcfcf" stroke-width="0.8"/><text transform="translate(137.1 510.6) matrix(1 .0005 0 1 0 0)" text-anchor="middle" font-size="9.76">Maximum number of child groups</text><text transform="translate(14 433.4) rotate(-90) matrix(1 .0005 0 1 0 0)" text-anchor="middle" font-size="10">Processing time (seconds)</text><line x1="57.55" x2="242.45" y1="386.66" y2="386.66" stroke="#a4a4a4" stroke-width="0.8"/><circle cx="57.55" cy="386.66" r="1.55" fill="#787878"/><circle cx="78.09" cy="386.66" r="1.55" fill="#787878"/><circle cx="98.64" cy="386.66" r="1.55" fill="#787878"/><circle cx="119.18" cy="386.66" r="1.55" fill="#787878"/><circle cx="139.73" cy="386.66" r="1.55" fill="#787878"/><circle cx="160.27" cy="386.66" r="1.55" fill="#787878"/><circle cx="180.82" cy="386.66" r="1.55" fill="#787878"/><circle cx="201.36" cy="386.66" r="1.55" fill="#787878"/><circle cx="221.91" cy="386.66" r="1.55" fill="#787878"/><circle cx="242.45" cy="386.66" r="1.55" fill="#787878"/><polyline points="57.55,462.84 78.09,464.52 98.64,462.6 119.18,461.17 139.73,456.13 160.27,452.54 180.82,447.27 201.36,449.19 221.91,442 242.45,445.83" fill="none" stroke="#2a2a2a" stroke-width="0.8" stroke-dasharray="1.6 1.6"/><rect x="56" y="461.29" width="3.1" height="3.1" fill="#333"/><rect x="76.54" y="462.97" width="3.1" height="3.1" fill="#333"/><rect x="97.09" y="461.05" width="3.1" height="3.1" fill="#333"/><rect x="117.63" y="459.62" width="3.1" height="3.1" fill="#333"/><rect x="138.18" y="454.58" width="3.1" height="3.1" fill="#333"/><rect x="158.72" y="450.99" width="3.1" height="3.1" fill="#333"/><rect x="179.27" y="445.72" width="3.1" height="3.1" fill="#333"/><rect x="199.81" y="447.64" width="3.1" height="3.1" fill="#333"/><rect x="220.36" y="440.45" width="3.1" height="3.1" fill="#333"/><rect x="240.9" y="444.28" width="3.1" height="3.1" fill="#333"/><polyline points="57.55,473.62 78.09,473.62 98.64,474.1 119.18,474.58 139.73,474.34 160.27,473.14 180.82,472.42 201.36,471.71 221.91,471.95 242.45,471.95" fill="none" stroke="#111" stroke-width="0.9"/><path d="M56.05 473.62L57.55 472.12L59.05 473.62L57.55 475.12Z" fill="#111"/><path d="M76.59 473.62L78.09 472.12L79.59 473.62L78.09 475.12Z" fill="#111"/><path d="M97.14 474.1L98.64 472.6L100.14 474.1L98.64 475.6Z" fill="#111"/><path d="M117.68 474.58L119.18 473.08L120.68 474.58L119.18 476.08Z" fill="#111"/><path d="M138.23 474.34L139.73 472.84L141.23 474.34L139.73 475.84Z" fill="#111"/><path d="M158.77 473.14L160.27 471.64L161.77 473.14L160.27 474.64Z" fill="#111"/><path d="M179.32 472.42L180.82 470.92L182.32 472.42L180.82 473.92Z" fill="#111"/><path d="M199.86 471.71L201.36 470.21L202.86 471.71L201.36 473.21Z" fill="#111"/><path d="M220.41 471.95L221.91 470.45L223.41 471.95L221.91 473.45Z" fill="#111"/><path d="M240.95 471.95L242.45 470.45L243.95 471.95L242.45 473.45Z" fill="#111"/><line x1="14.4" x2="21.4" y1="517.65" y2="517.65" stroke="#111" stroke-width="0.8"/><path d="M16.2 517.65L17.9 515.95L19.6 517.65L17.9 519.35Z" fill="#111"/><text transform="translate(22.4 520.45) matrix(1 .0005 0 1 0 0)" font-size="9.85">Proposed PBFT(280)</text><line x1="118.1" x2="122.9" y1="517.65" y2="517.65" stroke="#333" stroke-width="0.8" stroke-opacity="0.6"/><rect x="119.2" y="516.35" width="2.6" height="2.6" fill="#333"/><text transform="translate(124.9 520.45) matrix(1 .0005 0 1 0 0)" font-size="9.85">DLM-PBFT(280)</text><line x1="207.7" x2="212.1" y1="517.65" y2="517.65" stroke="#787878" stroke-width="0.8"/><circle cx="209.9" cy="517.65" r="1.3" fill="#787878"/><text transform="translate(214.9 520.45) matrix(1 .0005 0 1 0 0)" font-size="9.85">PBFT(280)</text><text transform="translate(134.9 545.1) matrix(1 .0005 0 1 0 0)" text-anchor="middle" font-size="12.5">(<tspan font-weight="bold" stroke="#111" stroke-width="0.25">e</tspan>)</text></g>
<g><line x1="316.3" x2="542.8" y1="474.78" y2="474.78" stroke="#6a6a6a" stroke-width="0.85"/><line x1="316.3" x2="542.8" y1="464" y2="464" stroke="#6a6a6a" stroke-width="0.85"/><line x1="316.3" x2="542.8" y1="453.23" y2="453.23" stroke="#6a6a6a" stroke-width="0.85"/><line x1="316.3" x2="542.8" y1="442.45" y2="442.45" stroke="#6a6a6a" stroke-width="0.85"/><line x1="316.3" x2="542.8" y1="431.68" y2="431.68" stroke="#6a6a6a" stroke-width="0.85"/><line x1="316.3" x2="542.8" y1="420.9" y2="420.9" stroke="#6a6a6a" stroke-width="0.85"/><line x1="316.3" x2="542.8" y1="410.12" y2="410.12" stroke="#6a6a6a" stroke-width="0.85"/><line x1="316.3" x2="542.8" y1="399.35" y2="399.35" stroke="#6a6a6a" stroke-width="0.85"/><line x1="316.3" x2="542.8" y1="388.58" y2="388.58" stroke="#6a6a6a" stroke-width="0.85"/><path d="M315.55 377.8H542.8V485.55" fill="none" stroke="#8e8e8e" stroke-width="0.9"/><line x1="316" x2="316" y1="377.8" y2="486" stroke="#b8b8b8" stroke-width="0.95"/><line x1="316" x2="543.25" y1="485.55" y2="485.55" stroke="#b0b0b0" stroke-width="0.9"/><text transform="translate(307.9 488.45) matrix(1 .0005 0 1 0 0)" text-anchor="end">25</text><line x1="313.5" x2="315.8" y1="485.55" y2="485.55" stroke="#cfcfcf" stroke-width="0.8"/><text transform="translate(307.9 477.68) matrix(1 .0005 0 1 0 0)" text-anchor="end">30</text><line x1="313.5" x2="315.8" y1="474.78" y2="474.78" stroke="#cfcfcf" stroke-width="0.8"/><text transform="translate(307.9 466.9) matrix(1 .0005 0 1 0 0)" text-anchor="end">35</text><line x1="313.5" x2="315.8" y1="464" y2="464" stroke="#cfcfcf" stroke-width="0.8"/><text transform="translate(307.9 456.12) matrix(1 .0005 0 1 0 0)" text-anchor="end">40</text><line x1="313.5" x2="315.8" y1="453.23" y2="453.23" stroke="#cfcfcf" stroke-width="0.8"/><text transform="translate(307.9 445.35) matrix(1 .0005 0 1 0 0)" text-anchor="end">45</text><line x1="313.5" x2="315.8" y1="442.45" y2="442.45" stroke="#cfcfcf" stroke-width="0.8"/><text transform="translate(307.9 434.57) matrix(1 .0005 0 1 0 0)" text-anchor="end">50</text><line x1="313.5" x2="315.8" y1="431.68" y2="431.68" stroke="#cfcfcf" stroke-width="0.8"/><text transform="translate(307.9 423.8) matrix(1 .0005 0 1 0 0)" text-anchor="end">55</text><line x1="313.5" x2="315.8" y1="420.9" y2="420.9" stroke="#cfcfcf" stroke-width="0.8"/><text transform="translate(307.9 413.02) matrix(1 .0005 0 1 0 0)" text-anchor="end">60</text><line x1="313.5" x2="315.8" y1="410.12" y2="410.12" stroke="#cfcfcf" stroke-width="0.8"/><text transform="translate(307.9 402.25) matrix(1 .0005 0 1 0 0)" text-anchor="end">65</text><line x1="313.5" x2="315.8" y1="399.35" y2="399.35" stroke="#cfcfcf" stroke-width="0.8"/><text transform="translate(307.9 391.48) matrix(1 .0005 0 1 0 0)" text-anchor="end">70</text><line x1="313.5" x2="315.8" y1="388.58" y2="388.58" stroke="#cfcfcf" stroke-width="0.8"/><text transform="translate(307.9 380.7) matrix(1 .0005 0 1 0 0)" text-anchor="end">75</text><line x1="313.5" x2="315.8" y1="377.8" y2="377.8" stroke="#cfcfcf" stroke-width="0.8"/><text transform="translate(316.3 499.9) matrix(1 .0005 0 1 0 0)" text-anchor="middle">0</text><line x1="316.3" x2="316.3" y1="485.95" y2="487.95" stroke="#cfcfcf" stroke-width="0.8"/><text transform="translate(336.86 499.9) matrix(1 .0005 0 1 0 0)" text-anchor="middle">2</text><line x1="336.86" x2="336.86" y1="485.95" y2="487.95" stroke="#cfcfcf" stroke-width="0.8"/><text transform="translate(357.43 499.9) matrix(1 .0005 0 1 0 0)" text-anchor="middle">4</text><line x1="357.43" x2="357.43" y1="485.95" y2="487.95" stroke="#cfcfcf" stroke-width="0.8"/><text transform="translate(377.99 499.9) matrix(1 .0005 0 1 0 0)" text-anchor="middle">6</text><line x1="377.99" x2="377.99" y1="485.95" y2="487.95" stroke="#cfcfcf" stroke-width="0.8"/><text transform="translate(398.55 499.9) matrix(1 .0005 0 1 0 0)" text-anchor="middle">8</text><line x1="398.55" x2="398.55" y1="485.95" y2="487.95" stroke="#cfcfcf" stroke-width="0.8"/><text transform="translate(419.12 499.9) matrix(1 .0005 0 1 0 0)" text-anchor="middle">10</text><line x1="419.12" x2="419.12" y1="485.95" y2="487.95" stroke="#cfcfcf" stroke-width="0.8"/><text transform="translate(439.68 499.9) matrix(1 .0005 0 1 0 0)" text-anchor="middle">12</text><line x1="439.68" x2="439.68" y1="485.95" y2="487.95" stroke="#cfcfcf" stroke-width="0.8"/><text transform="translate(460.25 499.9) matrix(1 .0005 0 1 0 0)" text-anchor="middle">14</text><line x1="460.25" x2="460.25" y1="485.95" y2="487.95" stroke="#cfcfcf" stroke-width="0.8"/><text transform="translate(480.81 499.9) matrix(1 .0005 0 1 0 0)" text-anchor="middle">16</text><line x1="480.81" x2="480.81" y1="485.95" y2="487.95" stroke="#cfcfcf" stroke-width="0.8"/><text transform="translate(501.37 499.9) matrix(1 .0005 0 1 0 0)" text-anchor="middle">18</text><line x1="501.37" x2="501.37" y1="485.95" y2="487.95" stroke="#cfcfcf" stroke-width="0.8"/><text transform="translate(521.94 499.9) matrix(1 .0005 0 1 0 0)" text-anchor="middle">20</text><line x1="521.94" x2="521.94" y1="485.95" y2="487.95" stroke="#cfcfcf" stroke-width="0.8"/><text transform="translate(542.5 499.9) matrix(1 .0005 0 1 0 0)" text-anchor="middle">22</text><line x1="542.5" x2="542.5" y1="485.95" y2="487.95" stroke="#cfcfcf" stroke-width="0.8"/><text transform="translate(416.3 510.55) matrix(1 .0005 0 1 0 0)" text-anchor="middle" font-size="9.76">Maximum number of child groups</text><text transform="translate(293.8 433.38) rotate(-90) matrix(1 .0005 0 1 0 0)" text-anchor="middle" font-size="10">Processing time (seconds)</text><line x1="336.86" x2="521.94" y1="385.77" y2="385.77" stroke="#a4a4a4" stroke-width="0.8"/><circle cx="336.86" cy="385.77" r="1.55" fill="#787878"/><circle cx="357.43" cy="385.77" r="1.55" fill="#787878"/><circle cx="377.99" cy="385.77" r="1.55" fill="#787878"/><circle cx="398.55" cy="385.77" r="1.55" fill="#787878"/><circle cx="419.12" cy="385.77" r="1.55" fill="#787878"/><circle cx="439.68" cy="385.77" r="1.55" fill="#787878"/><circle cx="460.25" cy="385.77" r="1.55" fill="#787878"/><circle cx="480.81" cy="385.77" r="1.55" fill="#787878"/><circle cx="501.37" cy="385.77" r="1.55" fill="#787878"/><circle cx="521.94" cy="385.77" r="1.55" fill="#787878"/><polyline points="336.86,460.55 357.43,462.06 377.99,460.34 398.55,456.89 419.12,456.46 439.68,452.58 460.25,450.42 480.81,446.76 501.37,441.8 521.94,441.37" fill="none" stroke="#2a2a2a" stroke-width="0.8" stroke-dasharray="1.6 1.6"/><rect x="335.31" y="459" width="3.1" height="3.1" fill="#333"/><rect x="355.88" y="460.51" width="3.1" height="3.1" fill="#333"/><rect x="376.44" y="458.79" width="3.1" height="3.1" fill="#333"/><rect x="397" y="455.34" width="3.1" height="3.1" fill="#333"/><rect x="417.57" y="454.91" width="3.1" height="3.1" fill="#333"/><rect x="438.13" y="451.03" width="3.1" height="3.1" fill="#333"/><rect x="458.7" y="448.87" width="3.1" height="3.1" fill="#333"/><rect x="479.26" y="445.21" width="3.1" height="3.1" fill="#333"/><rect x="499.82" y="440.25" width="3.1" height="3.1" fill="#333"/><rect x="520.39" y="439.82" width="3.1" height="3.1" fill="#333"/><polyline points="336.86,470.9 357.43,470.9 377.99,471.33 398.55,471.97 419.12,472.19 439.68,470.9 460.25,470.03 480.81,469.39 501.37,469.17 521.94,468.96" fill="none" stroke="#111" stroke-width="0.9"/><path d="M335.36 470.9L336.86 469.4L338.36 470.9L336.86 472.4Z" fill="#111"/><path d="M355.93 470.9L357.43 469.4L358.93 470.9L357.43 472.4Z" fill="#111"/><path d="M376.49 471.33L377.99 469.83L379.49 471.33L377.99 472.83Z" fill="#111"/><path d="M397.05 471.97L398.55 470.47L400.05 471.97L398.55 473.47Z" fill="#111"/><path d="M417.62 472.19L419.12 470.69L420.62 472.19L419.12 473.69Z" fill="#111"/><path d="M438.18 470.9L439.68 469.4L441.18 470.9L439.68 472.4Z" fill="#111"/><path d="M458.75 470.03L460.25 468.53L461.75 470.03L460.25 471.53Z" fill="#111"/><path d="M479.31 469.39L480.81 467.89L482.31 469.39L480.81 470.89Z" fill="#111"/><path d="M499.87 469.17L501.37 467.67L502.87 469.17L501.37 470.67Z" fill="#111"/><path d="M520.44 468.96L521.94 467.46L523.44 468.96L521.94 470.46Z" fill="#111"/><line x1="293.4" x2="300.4" y1="517.6" y2="517.6" stroke="#111" stroke-width="0.8"/><path d="M295.2 517.6L296.9 515.9L298.6 517.6L296.9 519.3Z" fill="#111"/><text transform="translate(301.4 520.4) matrix(1 .0005 0 1 0 0)" font-size="9.85">Proposed PBFT(300)</text><line x1="397.8" x2="402.6" y1="517.6" y2="517.6" stroke="#333" stroke-width="0.8" stroke-opacity="0.6"/><rect x="398.9" y="516.3" width="2.6" height="2.6" fill="#333"/><text transform="translate(404.6 520.4) matrix(1 .0005 0 1 0 0)" font-size="9.85">DLM-PBFT(300)</text><line x1="487" x2="491.4" y1="517.6" y2="517.6" stroke="#787878" stroke-width="0.8"/><circle cx="489.2" cy="517.6" r="1.3" fill="#787878"/><text transform="translate(494.2 520.4) matrix(1 .0005 0 1 0 0)" font-size="9.85">PBFT(300)</text><text transform="translate(414 544.95) matrix(1 .0005 0 1 0 0)" text-anchor="middle" font-size="12.5">(<tspan font-weight="bold" stroke="#111" stroke-width="0.25">f</tspan>)</text></g>
</svg>
</body></html>
